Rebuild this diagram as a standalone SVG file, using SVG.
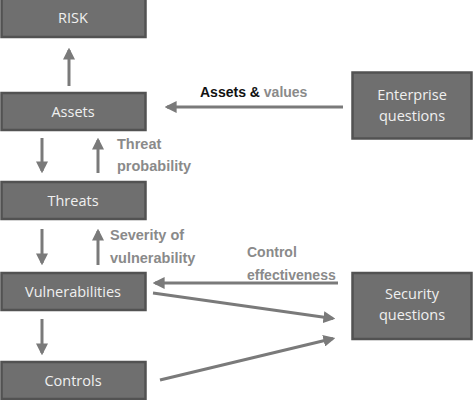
<svg xmlns="http://www.w3.org/2000/svg" width="474" height="400" viewBox="0 0 474 400">
<style>
.box{fill:#6f6f6f;stroke:#525252;stroke-width:2.5}
.bt{font-family:"Open Sans","Liberation Sans",sans-serif;font-size:14.5px;fill:#f0f0f0;text-anchor:middle}
.lb{font-family:"Liberation Sans",Arial,sans-serif;font-size:14px;font-weight:bold;fill:#8a8a8a}
.c{stroke:#7a7a7a;stroke-width:3;fill:none;marker-end:url(#ah)}
</style>
<defs>
<marker id="ah" viewBox="0 0 10 10" refX="8" refY="5" markerWidth="4" markerHeight="4" orient="auto" markerUnits="strokeWidth">
<path d="M0,0 L10,5 L0,10 z" fill="#7a7a7a"/>
</marker>
</defs>
<rect width="474" height="400" fill="#fff"/>
<g id="risk"><rect class="box" x="1.5" y="-2" width="144" height="39"/><text class="bt" x="73" y="23">RISK</text></g>
<g id="assets"><rect class="box" x="1.5" y="93" width="144" height="37"/><text class="bt" x="73" y="117">Assets</text></g>
<g id="threats"><rect class="box" x="1.5" y="182" width="144" height="37"/><text class="bt" x="73" y="206">Threats</text></g>
<g id="vulnerabilities"><rect class="box" x="1.5" y="273" width="144" height="37"/><text class="bt" x="73" y="297">Vulnerabilities</text></g>
<g id="controls"><rect class="box" x="1.5" y="362" width="144" height="37"/><text class="bt" x="73" y="386">Controls</text></g>
<g id="enterprise"><rect class="box" x="352.5" y="72.5" width="119" height="66"/><text class="bt" x="412" y="100">Enterprise</text><text class="bt" x="412" y="121">questions</text></g>
<g id="security"><rect class="box" x="352.5" y="273" width="119" height="66"/><text class="bt" x="412" y="299">Security</text><text class="bt" x="412" y="320">questions</text></g>
<g id="connectors">
<line class="c" x1="69" y1="86" x2="69" y2="50"/>
<line class="c" x1="343" y1="107" x2="167" y2="107"/>
<line class="c" x1="42" y1="138" x2="42" y2="171"/>
<line class="c" x1="98" y1="173" x2="98" y2="140"/>
<line class="c" x1="42" y1="229" x2="42" y2="263"/>
<line class="c" x1="98" y1="265" x2="98" y2="231"/>
<line class="c" x1="42" y1="319" x2="42" y2="353"/>
<line class="c" x1="338" y1="283" x2="155" y2="283"/>
<line class="c" x1="153" y1="293" x2="333" y2="318.5"/>
<line class="c" x1="160" y1="380" x2="333" y2="338.5"/>
</g>
<g id="labels">
<text class="lb" x="200" y="97" style="fill:#111">Assets &amp; <tspan style="fill:#8a8a8a">values</tspan></text>
<text class="lb" x="117" y="149" style="font-size:14.5px">Threat</text>
<text class="lb" x="117" y="171" style="font-size:14.5px">probability</text>
<text class="lb" x="110" y="240" style="font-size:14.5px">Severity of</text>
<text class="lb" x="110" y="263" style="font-size:14.5px">vulnerability</text>
<text class="lb" x="247" y="257">Control</text>
<text class="lb" x="247" y="280">effectiveness</text>
</g>
</svg>
